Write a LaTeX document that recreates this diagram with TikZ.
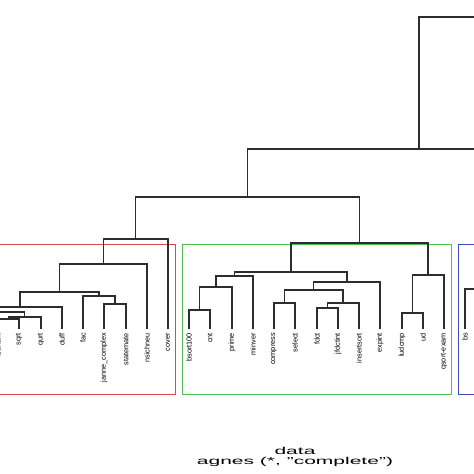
\documentclass[tikz,border=0pt]{standalone}
\usepackage{fontspec}
\setmainfont{Liberation Sans}
\definecolor{boxred}{RGB}{222,70,90}
\definecolor{boxgreen}{RGB}{80,190,80}
\definecolor{boxblue}{RGB}{70,70,190}
\definecolor{treeink}{RGB}{45,45,45}
\begin{document}
\begin{tikzpicture}[x=1pt,y=-1pt,
  edge/.style={draw=treeink,line width=1.1pt},
  clusterbox/.style={line width=0.9pt},
  leaflab/.style={rotate=90,anchor=east,inner sep=0pt,font=\fontsize{7.3}{8}\selectfont},
  titlelab/.style={anchor=base,inner sep=0pt,xscale=2.1,font=\fontsize{10}{11}\selectfont}]
\useasboundingbox (0,0) rectangle (474,474);
\fill[white] (0,0) rectangle (474,474);
\clip (0,0) rectangle (474,474);
% cluster boxes
\draw[clusterbox,draw=boxred] (-10,244) rectangle (175.5,394);
\draw[clusterbox,draw=boxgreen] (182,244) rectangle (451,394);
\draw[clusterbox,draw=boxblue] (458,244) rectangle (530,394);
% leaves (tops of leaf lines)
\foreach \n/\x in {lcdnum/-2, sqrt/19, qurt/41, duff/62, fac/83, janne/104, statemate/126, nsichneu/147, cover/168,
  bsort/189, cnt/210, prime/232, minver/253, compress/274, select/295, fdct/317, jfdctint/338, insertsort/359, expint/380,
  ludcmp/402, ud/423, qsort/444, bs/465}
  \coordinate (\n) at (\x,329);
\coordinate (hidL) at (-69,329);
\coordinate (hidB) at (535,329);
\coordinate (hidR) at (591,240);
% merges
\coordinate (ma) at (8.5,319);
\coordinate (mb) at (24.75,317);
\coordinate (mc) at (-22,312);
\coordinate (md) at (20,307);
\coordinate (me) at (115,304);
\coordinate (mf) at (99,296);
\coordinate (mg) at (59.5,292);
\coordinate (mh) at (103.5,264);
\coordinate (mi) at (135.5,239);
\coordinate (ga) at (199.5,310);
\coordinate (gb) at (216,287);
\coordinate (gc) at (234.5,276);
\coordinate (gd) at (284.5,303);
\coordinate (ge) at (327.5,308);
\coordinate (gf) at (343,303);
\coordinate (gg) at (313.5,290);
\coordinate (gh) at (347,282);
\coordinate (gi) at (291,272);
\coordinate (gj) at (412.5,313);
\coordinate (gk) at (428,275);
\coordinate (gl) at (359.5,243);
\coordinate (ba) at (500,289);
\coordinate (ua) at (247.5,197);
\coordinate (ub) at (419,149);
\coordinate (uc) at (700,17);
% edges
\foreach \p/\c in {ma/lcdnum, ma/sqrt, mb/ma, mb/qurt, mc/hidL, mc/mb, md/mc, md/duff,
  me/janne, me/statemate, mf/fac, mf/me, mg/md, mg/mf, mh/mg, mh/nsichneu, mi/mh, mi/cover,
  ga/bsort, ga/cnt, gb/ga, gb/prime, gc/gb, gc/minver, gd/compress, gd/select,
  ge/fdct, ge/jfdctint, gf/ge, gf/insertsort, gg/gd, gg/gf, gh/gg, gh/expint,
  gi/gc, gi/gh, gj/ludcmp, gj/ud, gk/gj, gk/qsort, gl/gi, gl/gk,
  ba/bs, ba/hidB, ua/mi, ua/gl, ub/ua, ub/hidR, uc/ub}
  \draw[edge] (\p) -| (\c);
% leaf labels
\foreach \n/\t in {lcdnum/lcdnum, sqrt/sqrt, qurt/qurt, duff/duff, fac/fac, janne/janne\_complex, statemate/statemate,
  nsichneu/nsichneu, cover/cover, bsort/bsort100, cnt/cnt, prime/prime, minver/minver, compress/compress,
  select/select, fdct/fdct, jfdctint/jfdctint, insertsort/insertsort, expint/expint, ludcmp/ludcmp, ud/ud,
  qsort/qsort-exam, bs/bs}
  \node[leaflab] (lab-\n) at ([yshift=-4pt]\n) {\t};
% title
\node[titlelab] (t1) at (295,454) {data};
\node[titlelab] (t2) at (295,464.5) {agnes (*, "complete")};
\end{tikzpicture}
\end{document}
